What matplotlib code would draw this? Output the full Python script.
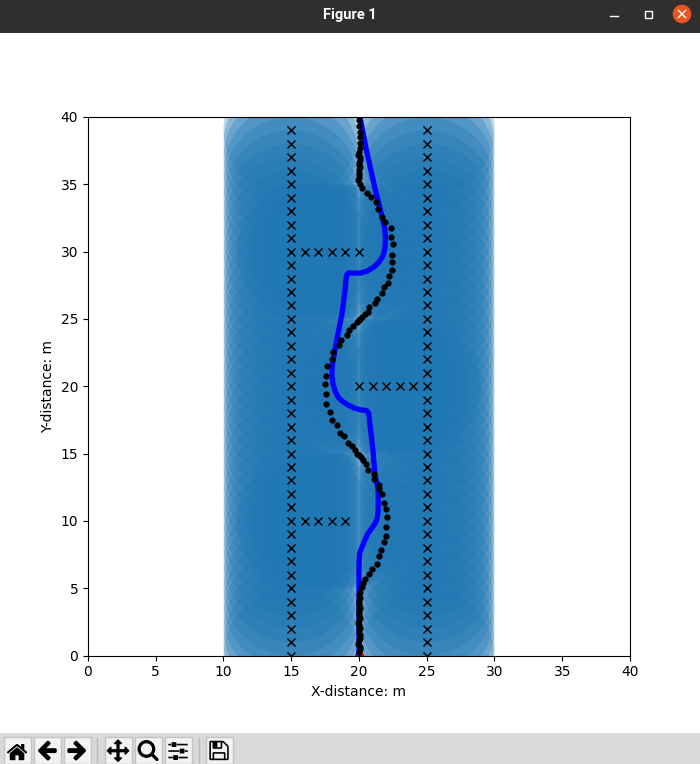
import os
import matplotlib
matplotlib.use("Agg")
import matplotlib.pyplot as plt
from matplotlib.patches import Circle, Rectangle

# --- data (metres) ---
wall_left_x = [15] * 40
wall_right_x = [25] * 40
wall_y = list(range(40))
branch_a_x = [16, 17, 18, 19]
branch_a_y = [10, 10, 10, 10]
branch_b_x = [20, 21, 22, 23, 24]
branch_b_y = [20, 20, 20, 20, 20]
branch_c_x = [16, 17, 18, 19, 20]
branch_c_y = [30, 30, 30, 30, 30]
influence_radius = 5
start_x = [20]
start_y = [0]

path_x = [20, 20, 20, 20.05, 20.2, 20.4, 20.66, 20.95, 21.18, 21.35, 21.42, 21.42, 21.3, 21.18,
          21.03, 20.8, 20.72, 20.55, 20.1, 19.6, 19.2, 18.75, 18.45, 18.22, 18.08, 18.0, 18.02,
          18.23, 18.45, 18.75, 18.97, 19.04, 19.1, 19.25, 20.07, 20.6, 21.1, 21.5, 21.8, 21.92,
          21.95, 21.9, 21.7, 21.18, 20.6, 20.07]
path_y = [0, 5.35, 6.8, 7.6, 8.0, 8.5, 9.07, 9.45, 9.8, 10.2, 10.8, 12.27, 12.9, 13.4,
          15.24, 17.25, 18.0, 18.2, 18.25, 18.4, 18.6, 18.9, 19.2, 19.7, 20.2, 20.8, 21.5,
          22.7, 23.9, 25.4, 27.1, 27.9, 28.3, 28.42, 28.4, 28.55, 28.85, 29.25, 29.75, 30.3,
          31.0, 31.7, 32.6, 34.7, 37.3, 40]

robot_x = [19.98, 20.05, 20.07, 19.95, 20.02, 20.05, 20.07, 19.97, 20.02, 20.06, 19.98, 19.96,
           20.02, 20.05, 20.0, 19.97, 20.02, 20.05, 19.98, 19.97, 20.02, 20.06, 20.02,
           20.07, 20.22, 20.27, 20.47, 20.71, 20.94, 21.3, 21.45, 21.65, 21.82, 22.02, 21.97,
           22.04, 21.99, 21.82, 21.72, 21.5, 21.5, 21.13, 21.08, 20.69, 20.52, 20.32, 20.15,
           20.0, 19.88, 19.73, 19.51, 19.21, 18.92, 18.62, 18.35, 18.03, 17.88, 17.59, 17.59,
           17.52, 17.59, 17.66, 18.03, 18.11, 18.55, 18.7, 19.14, 19.29, 19.58, 19.83, 19.98,
           20.07, 20.2, 20.44, 20.69, 20.76, 21.18, 21.3, 21.67, 21.85, 22.12, 22.21, 22.41,
           22.41, 22.46, 22.53, 22.34, 22.34, 21.94, 21.7, 21.43, 21.23, 20.86, 20.62, 20.25,
           20.07, 19.95, 20.03, 20.02, 19.97, 20.0, 20.06, 20.0, 19.97, 20.07, 20.05, 19.95,
           20.0, 20.07, 20.1, 20.07, 20.07, 19.98, 20.0]
robot_y = [0.25, 0.45, 0.62, 0.85, 1.12, 1.3, 1.49, 1.68, 1.86, 2.05, 2.23, 2.4,
           2.6, 2.8, 2.98, 3.15, 3.35, 3.55, 3.72, 3.9, 4.09, 4.3, 4.46,
           4.71, 5.08, 5.38, 5.68, 6.02, 6.4, 6.82, 7.39, 7.86, 8.45, 8.87, 9.54,
           10.3, 10.9, 11.35, 12.02, 12.39, 12.69, 13.09, 13.51, 13.76, 14.2, 14.5, 14.75,
           14.92, 15.0, 15.25, 15.54, 15.82, 16.29, 16.56, 17.1, 17.53, 18.1, 18.71, 19.46,
           20.13, 20.75, 21.47, 21.99, 22.51, 23.03, 23.47, 23.84, 24.17, 24.46, 24.74, 24.91,
           25.03, 25.16, 25.33, 25.48, 25.9, 26.15, 26.47, 26.89, 27.39, 27.68, 28.2, 28.63,
           29.25, 29.74, 30.53, 31.1, 31.72, 32.22, 32.59, 33.16, 33.66, 34.03, 34.37, 34.72,
           35.02, 35.32, 35.5, 35.69, 35.85, 36.06, 36.25, 36.43, 36.6, 36.8, 37.0, 37.17,
           37.4, 37.67, 38.04, 38.54, 38.91, 39.33, 39.78]

W, H = 700, 764
fig = plt.figure(figsize=(W / 100, H / 100), dpi=100, facecolor="white")
ax = fig.add_axes([88 / W, (H - 655.5) / H, 542 / W, 538.5 / H])

obst_x = wall_left_x + wall_right_x + branch_a_x + branch_b_x + branch_c_x
obst_y = wall_y + wall_y + branch_a_y + branch_b_y + branch_c_y
for ox, oy in zip(obst_x, obst_y):
    ax.add_patch(Circle((ox, oy), influence_radius, color="tab:blue", alpha=0.3, lw=0))

ax.plot(obst_x, obst_y, "xk")
ax.plot(start_x, start_y, "or")
ax.plot(path_x, path_y, "-", color="blue", lw=3.8, solid_joinstyle="round")
ax.plot(robot_x, robot_y, ".k", ms=7)
ax.set_xlim(0, 40)
ax.set_ylim(0, 40)
ax.set_xlabel("X-distance: m")
ax.set_ylabel("Y-distance: m")

# --- window chrome, laid out in pixels ---
ui = fig.add_axes([0, 0, 1, 1], zorder=5)
ui.set_xlim(0, W)
ui.set_ylim(H, 0)
ui.axis("off")
ui.patch.set_alpha(0)
ui.add_patch(Rectangle((0, 0), W, 33, color="#302f2d", lw=0))
ui.text(350, 15.5, "Figure 1", color="white", ha="center", va="center",
        fontsize=10.5, fontweight="bold", family="Roboto")
ui.plot([610, 618], [16, 16], color="white", lw=1)
ui.add_patch(Rectangle((644.5, 10.5), 7, 7, fill=False, ec="white", lw=1))
ui.add_patch(Circle((682, 14), 9.3, color="#e95420", lw=0))
ui.plot([678.5, 685.5], [10.5, 17.5], color="white", lw=1)
ui.plot([678.5, 685.5], [17.5, 10.5], color="white", lw=1)
ui.add_patch(Rectangle((0, 733), W, 31, color="#d9d9d9", lw=0))
for x in (97, 199):
    ui.plot([x, x], [738, 762], color="#b8b8b8", lw=1)

images = os.path.join(matplotlib.get_data_path(), "images")
buttons = [("home", 4), ("back", 34), ("forward", 64), ("move", 105),
           ("zoom_to_rect", 135), ("subplots", 165), ("filesave", 206)]
for name, x in buttons:
    ui.add_patch(Rectangle((x - .5, 736.5), 27, 27, fc="#f2f2f2", ec="#c4c4c4", lw=1))
    img = plt.imread(os.path.join(images, name + ".png"))
    ui.imshow(img, extent=(x + 1, x + 25, 762, 738), zorder=3, interpolation="bilinear")
ui.set_xlim(0, W)
ui.set_ylim(H, 0)
ui.set_aspect("auto")

fig.savefig("out.png", dpi=100)
